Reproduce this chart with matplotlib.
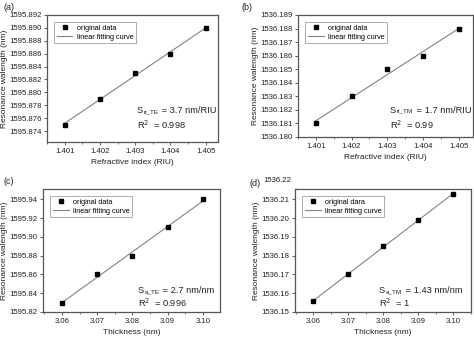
import matplotlib
matplotlib.use("Agg")
import matplotlib.pyplot as plt
from matplotlib.ticker import MultipleLocator
import numpy as np

plt.rcParams['font.family'] = ['Liberation Sans', 'DejaVu Sans']

# Data
ri = [1.401, 1.402, 1.403, 1.404, 1.405]
wl_a = [1595.875, 1595.879, 1595.883, 1595.886, 1595.890]
wl_b = [1536.181, 1536.183, 1536.185, 1536.186, 1536.188]
th = [3.06, 3.07, 3.08, 3.09, 3.10]
wl_c = [1595.83, 1595.86, 1595.88, 1595.91, 1595.94]
wl_d = [1536.156, 1536.170, 1536.185, 1536.199, 1536.213]

yt_a = [1595.874, 1595.876, 1595.878, 1595.880, 1595.882, 1595.884, 1595.886, 1595.888, 1595.890, 1595.892]
yt_b = [1536.180, 1536.181, 1536.182, 1536.183, 1536.184, 1536.185, 1536.186, 1536.187, 1536.188, 1536.189]
yt_c = [1595.82, 1595.84, 1595.86, 1595.88, 1595.90, 1595.92, 1595.94]
yt_d = [1536.15, 1536.16, 1536.17, 1536.18, 1536.19, 1536.20, 1536.21]

panels = [
    dict(x=ri, y=wl_a, pos=[0.0992, 0.5786, 0.3608, 0.3769], xlim=(1.4005, 1.40535),
         ylim=(1595.8723, 1595.892), yt=yt_a, yfmt="{:.3f}", xfmt="{:.3f}", xminor=0.0005,
         xlabel="Refractive index (RIU)", lab="(a)", labpos=(3, 8),
         s1="S", s2="ri_TE", s3=" = 3.7 nm/RIU", r2="0.998", leg="original data",
         ann=(0.525, 0.225, 0.105)),
    dict(x=ri, y=wl_b, pos=[0.6287, 0.5935, 0.3692, 0.3620], xlim=(1.4005, 1.4054),
         ylim=(1536.180, 1536.189), yt=yt_b, yfmt="{:.3f}", xfmt="{:.3f}", xminor=0.0005,
         xlabel="Refractive index (RIU)", lab="(b)", labpos=(242, 7),
         s1="S", s2="ri_TM", s3=" = 1.7 nm/RIU", r2="0.99", leg="original data",
         ann=(0.525, 0.20, 0.065)),
    dict(x=th, y=wl_c, pos=[0.0907, 0.0742, 0.3734, 0.3650], xlim=(3.0546, 3.1049),
         ylim=(1595.82, 1595.951), yt=yt_c, yfmt="{:.2f}", xfmt="{:.2f}", xminor=0.005,
         xlabel="Thickness (nm)", lab="(c)", labpos=(3, 181),
         s1="S", s2="a_TE", s3=" = 2.7 nm/nm", r2="0.996", leg="original data",
         ann=(0.535, 0.155, 0.045)),
    dict(x=th, y=wl_d, pos=[0.6224, 0.0742, 0.3713, 0.3650], xlim=(3.0548, 3.105),
         ylim=(1536.15, 1536.2155), yt=yt_d, yfmt="{:.2f}", xfmt="{:.2f}", xminor=0.005,
         xlabel="Thickness (nm)", lab="(d)", labpos=(250, 184),
         s1="S", s2="a_TM", s3=" = 1.43 nm/nm", r2="1", leg="original dara",
         ann=(0.477, 0.155, 0.045), extra="1536.22"),
]

W, H = 474, 337
fig = plt.figure(figsize=(W / 100, H / 100), dpi=100)
txtc = '#222222'
linec = '#8c7f7f'
afs = 6.7

pending = []
for p in panels:
    ax = fig.add_axes(p["pos"])
    x = np.array(p["x"]); y = np.array(p["y"])
    k, b = np.polyfit(x, y, 1)
    xx = np.array([x[0], x[-1]])
    ax.plot(xx, k * xx + b, color=linec, lw=0.8, label="linear fitting curve", zorder=2)
    ax.plot(x, y, 's', color='black', ms=2.8, label=p["leg"], zorder=3)
    ax.set_xlim(*p["xlim"])
    ax.set_ylim(*p["ylim"])
    ax.set_xticks(p["x"])
    ax.set_xticklabels([p["xfmt"].format(v) for v in p["x"]])
    ax.xaxis.set_minor_locator(MultipleLocator(p["xminor"]))
    ax.set_yticks(p["yt"])
    ax.set_yticklabels([p["yfmt"].format(v) for v in p["yt"]])
    ax.tick_params(direction='out', length=2.5, width=0.6, labelsize=5.6, colors='#444444',
                   labelcolor=txtc, pad=1.5)
    ax.tick_params(which='minor', direction='out', length=1.5, width=0.5, colors='#444444')
    for s in ax.spines.values():
        s.set_linewidth(0.9)
        s.set_color('#555555')
    ax.set_xlabel(p["xlabel"], fontsize=6, color=txtc, labelpad=3)
    ax.set_ylabel("Resonance walength (nm)", fontsize=6, color=txtc, labelpad=1)
    if "extra" in p:
        ax.text(-0.02, 1536.22, p["extra"], transform=ax.get_yaxis_transform(),
                ha='right', va='center', fontsize=5.6, color=txtc, clip_on=False)
    h, l = ax.get_legend_handles_labels()
    leg = ax.legend(h[::-1], l[::-1], loc='upper left', fontsize=5.2, frameon=True,
                    fancybox=False, edgecolor='#888888', borderpad=0.35,
                    handlelength=2.2, handletextpad=0.6, labelspacing=0.25,
                    bbox_to_anchor=(0.02, 0.97))
    leg.get_frame().set_linewidth(0.6)
    ax0, ay, ry = p["ann"]
    t0 = ax.text(ax0, ay, p["s1"], transform=ax.transAxes, fontsize=afs, color=txtc,
                 ha='left', va='baseline')
    t1 = ax.text(ax0, ay, p["s2"], transform=ax.transAxes, fontsize=4.6, color=txtc,
                 ha='left', va='baseline')
    t2 = ax.text(ax0, ay, p["s3"], transform=ax.transAxes, fontsize=afs, color=txtc,
                 ha='left', va='baseline')
    pending.append((ax, t0, t1, t2))
    ax.text(ax0, ry, r"R$^2$  = " + p["r2"], transform=ax.transAxes,
            fontsize=afs, color=txtc, ha='left', va='baseline')
    fig.text(p["labpos"][0] / W, 1 - p["labpos"][1] / H, p["lab"], fontsize=6.5,
             color=txtc, ha='left', va='center')

fig.canvas.draw()
r = fig.canvas.get_renderer()
for ax, t0, t1, t2 in pending:
    inv = ax.transAxes.inverted()
    x1 = t0.get_window_extent(r).x1 + 0.8
    t1.set_x(inv.transform((x1, 0))[0])
    x2 = t1.get_window_extent(r).x1 + 0.5
    t2.set_x(inv.transform((x2, 0))[0])

fig.savefig("out.png", dpi=100)
